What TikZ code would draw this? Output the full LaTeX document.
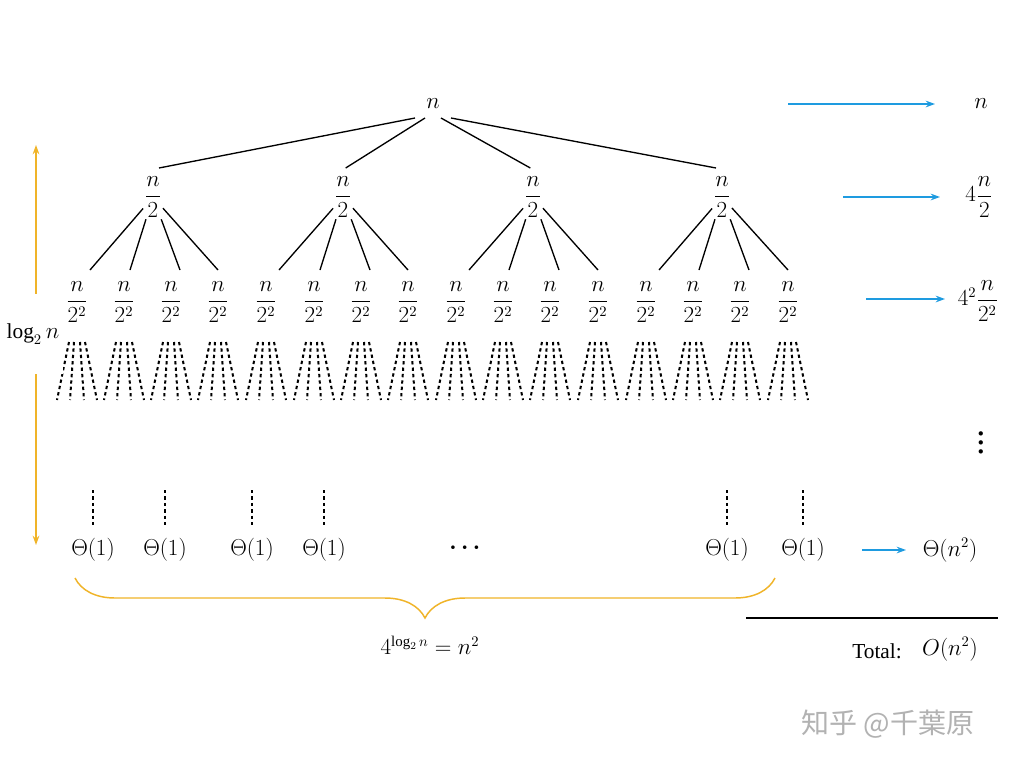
\documentclass[tikz,border=0pt]{standalone}
\usepackage{amsmath}
\usepackage{graphicx}
\usepackage{fontspec}
\setmainfont{Liberation Serif}
\newfontfamily\cjk{Noto Sans CJK SC}
\usetikzlibrary{decorations.pathreplacing,arrows.meta}
\definecolor{myblue}{HTML}{1E9BE0}
\definecolor{myorange}{HTML}{F0B429}
\begin{document}
\begin{tikzpicture}[x=0.75pt,y=-0.75pt,font=\fontsize{16}{19}\selectfont,
  lbl/.style={inner sep=1pt},
  edge/.style={line width=1pt},
  fan/.style={line width=1.5pt,dash pattern=on 2.5pt off 2.3pt},
  bar/.style={myblue,line width=1.1pt,-{Stealth[length=7pt,width=5pt]}}]
\useasboundingbox[fill=white] (0,0) rectangle (1024,768);
\node[lbl] (r) at (433,104) {$n$};
\coordinate (rr) at (433,118);
\foreach \i/\x/\s in {1/153/-18,2/343/-8,3/533/8,4/722/18}{
  \node[lbl] (c\i) at (\x,197) {$\dfrac{n}{2}$};
  \coordinate (ct\i) at (\x,168);
  \draw[edge] ([xshift=\s*0.75pt]rr) -- ([xshift=-\s*0.25pt]ct\i);
}
\foreach \j/\x in {1/77,2/124,3/171,4/218,5/266,6/314,7/361,8/408,9/456,10/503,11/550,12/598,13/646,14/693,15/740,16/788}{
  \node[lbl] (g\j) at (\x,302) {$\dfrac{n}{2^2}$};
  \pgfmathtruncatemacro{\p}{int((\j-1)/4)+1}
  \pgfmathtruncatemacro{\q}{mod(\j-1,4)}
  \pgfmathsetmacro{\tx}{{-23,-7,10,27}[\q]}
  \pgfmathsetmacro{\bx}{{13,6,9,0}[\q]}
  \coordinate (gt\j) at (\x,270);
  \draw[edge] ([xshift=\tx*0.75pt,yshift=-33*0.75pt]c\p) -- ([xshift=\bx*0.75pt]gt\j);
  \coordinate (ft\j) at (\x,342);
  \foreach \a/\b in {-8/-20,-3/-7,3/7,8/20}{
    \draw[fan] ([xshift=\a*0.75pt]ft\j) -- ([xshift=\b*0.75pt,yshift=-58*0.75pt]ft\j);
  }
}
\foreach \k/\x in {1/93,2/165,3/252,4/324,5/727,6/803}{
  \node[lbl] (t\k) at (\x,550) {$\Theta(1)$};
  \coordinate (v\k) at (\x,490);
  \draw[fan] (v\k) -- ([yshift=-35*0.75pt]v\k);
}
\node[lbl] (dots) at (467,548) {$\boldsymbol{\cdots}$};
% right column
\coordinate (a1) at (788,104); \coordinate (b1) at (935,104);
\draw[bar] (a1) -- (b1); \node[lbl] (s1) at (981,104) {$n$};
\coordinate (a2) at (843,197); \coordinate (b2) at (940,197);
\draw[bar] (a2) -- (b2); \node[lbl] (s2) at (979,197) {$4\dfrac{n}{2}$};
\coordinate (a3) at (866,299); \coordinate (b3) at (945,299);
\draw[bar] (a3) -- (b3); \node[lbl] (s3) at (978,301) {$4^2\dfrac{n}{2^2}$};
\node[lbl] (vd) at (981,436) {\scalebox{1.7}{$\vdots$}};
\coordinate (a4) at (862,550); \coordinate (b4) at (906,550);
\draw[bar] (a4) -- (b4); \node[lbl] (s4) at (950,550) {$\Theta(n^2)$};
% left arrow
\coordinate (la) at (36,145); \coordinate (lb) at (36,545);
\draw[myorange,line width=1.1pt,{Stealth[length=7pt,width=5pt]}-{Stealth[length=7pt,width=5pt]}] (la) -- (lb);
\node[fill=white,inner sep=3pt,minimum height=60pt] (lg) at (33,334) {$\log_2 n$};
% brace
\coordinate (ba) at (75,578); \coordinate (bb) at (775,578);
\draw[myorange,line width=1.1pt,decorate,decoration={brace,mirror,amplitude=30pt,aspect=0.5}] (ba) -- (bb);
\node[lbl] (bl) at (430,645) {$4^{\log_2 n}=n^2$};
% total
\coordinate (ta) at (746,618); \coordinate (tb) at (998,618);
\draw[line width=1.1pt] (ta) -- (tb);
\node[lbl] (tot) at (877,651) {Total:};
\node[lbl] (on) at (950,649) {$O(n^2)$};
\node[lbl,text=black!30,font=\cjk\fontsize{21}{24}\selectfont] (wm) at (888,724) {知乎 @千葉原};
\end{tikzpicture}
\end{document}
